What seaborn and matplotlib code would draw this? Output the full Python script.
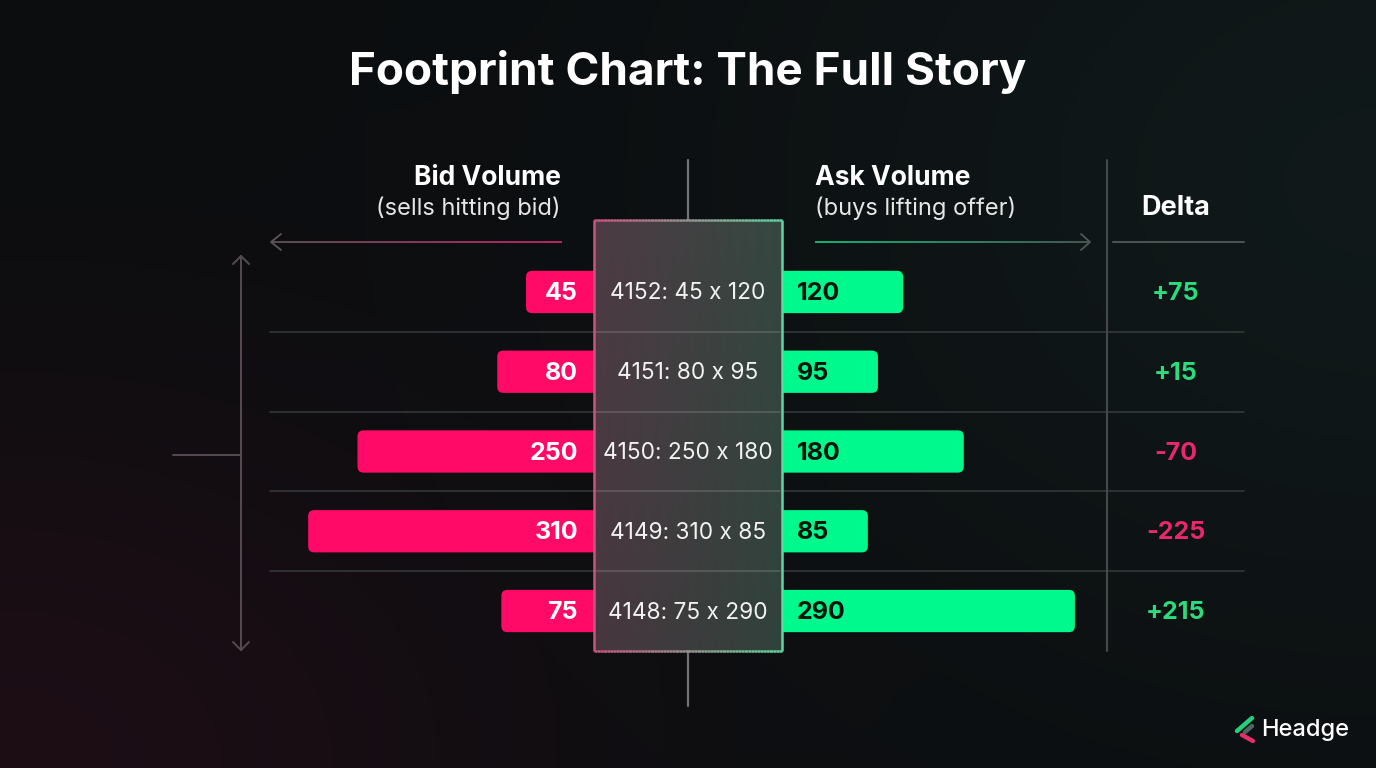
import numpy as np
import pandas as pd
import matplotlib
matplotlib.use("Agg")
import matplotlib.pyplot as plt
import seaborn as sns
from matplotlib.patches import FancyBboxPatch
from matplotlib.collections import LineCollection
from matplotlib.colors import to_rgb

# data
prices = [4152, 4151, 4150, 4149, 4148]
bid_vol = [45, 80, 250, 310, 75]
ask_vol = [120, 95, 180, 85, 290]

PINK = "#ff0a66"
GREEN = "#00f98c"
DPOS = "#2bdc7c"
DNEG = "#e8286a"
W, H = 1376, 768

sns.set_theme(style="dark")
plt.rcParams['font.family'] = ['Inter', 'DejaVu Sans']

df = pd.DataFrame({"price": [str(p) for p in prices], "bid": bid_vol, "ask": ask_vol})
df["delta"] = df["ask"] - df["bid"]

fig = plt.figure(figsize=(W / 100, H / 100), dpi=100)

# background axes in pixel coordinates
bg = fig.add_axes([0, 0, 1, 1])
bg.set_xlim(0, W)
bg.set_ylim(H, 0)
bg.axis("off")

# background gradient
yy, xx = np.mgrid[0:H:4, 0:W:4]
img = np.zeros(xx.shape + (3,))
img[:] = np.array(to_rgb("#0b0d0f"))
red_glow = np.exp(-(((xx - 0) / 520) ** 2 + ((yy - H) / 380) ** 2))
grn_glow = np.exp(-(((xx - W) / 650) ** 2 + ((yy - 180) / 520) ** 2))
img += red_glow[..., None] * np.array([0.07, 0.0, 0.025])
img += grn_glow[..., None] * np.array([0.02, 0.045, 0.04])
bg.imshow(np.clip(img, 0, 1), extent=[0, W, H, 0], aspect="auto", zorder=0, interpolation="bilinear")

# row geometry (pixels)
top_px, bot_px = 252.1, 650.9
row_h = (bot_px - top_px) / len(prices)
row_y = [top_px + (i + 0.5) * row_h for i in range(len(prices))]

def fig_rect(x0, x1, y0, y1):
    return [x0 / W, 1 - y1 / H, (x1 - x0) / W, (y1 - y0) / H]

# row separators
for i in range(1, len(prices)):
    y = top_px + i * row_h
    bg.plot([270, 1244], [y, y], color="#34383a", lw=1.2, zorder=1)

# bid axis: zero at px 563, 0.822 px per contract, pointing left
bid_origin, bid_scale = 563, 0.822
ax_bid = fig.add_axes(fig_rect(240, 640, top_px, bot_px))
ax_bid.patch.set_alpha(0)
sns.barplot(data=df, x="bid", y="price", orient="h", width=0.53, color=PINK, ax=ax_bid)
ax_bid.set_xlim((bid_origin - 240) / bid_scale, (bid_origin - 640) / bid_scale)
ax_bid.set_ylim(len(prices) - 0.5, -0.5)

# ask axis: zero at px 782, 1.01 px per contract
ask_origin, ask_scale = 782, 1.01
ax_ask = fig.add_axes(fig_rect(760, 1100, top_px, bot_px))
ax_ask.patch.set_alpha(0)
sns.barplot(data=df, x="ask", y="price", orient="h", width=0.53, color=GREEN, ax=ax_ask)
ax_ask.set_xlim((760 - ask_origin) / ask_scale, (1100 - ask_origin) / ask_scale)
ax_ask.set_ylim(len(prices) - 0.5, -0.5)


def round_bars(ax, start, px_per_x, color):
    # swap seaborn rectangles for rounded ones that start under the price box
    aspect = (1 / row_h) / (1 / px_per_x)
    for p in list(ax.patches):
        y, h, w = p.get_y(), p.get_height(), p.get_width()
        p.remove()
        fb = FancyBboxPatch((start, y), w - start, h,
                            boxstyle="round,pad=0,rounding_size=%f" % (6 / px_per_x),
                            mutation_aspect=aspect, fc=color, ec="none", zorder=2)
        ax.add_patch(fb)


round_bars(ax_bid, -60, bid_scale, PINK)
round_bars(ax_ask, -15, ask_scale, GREEN)

for ax in (ax_bid, ax_ask):
    ax.axis("off")

# value labels on bars
for i, (b, a) in enumerate(zip(bid_vol, ask_vol)):
    ax_bid.text((bid_origin - 578) / bid_scale, i + 0.02, str(b), ha="right", va="center",
                color="white", fontsize=18, fontweight="bold", zorder=3)
    ax_ask.text((797 - ask_origin) / ask_scale, i + 0.02, str(a), ha="left", va="center",
                color="#05140c", fontsize=18, fontweight="bold", zorder=3)

# price box overlay (drawn on a top axes)
top = fig.add_axes([0, 0, 1, 1])
top.set_xlim(0, W)
top.set_ylim(H, 0)
top.axis("off")
top.patch.set_alpha(0)

bx0, bx1, by0, by1 = 594, 782, 220, 651
gx = np.linspace(0, 1, 100)
gy = np.linspace(0, 1, 100)
GX, GY = np.meshgrid(gx, gy)
left_c = np.array(to_rgb("#4c3a43"))
right_c = np.array(to_rgb("#34463f"))
box_img = left_c * (1 - GX[..., None]) + right_c * GX[..., None]
box_img *= (1.02 - 0.08 * GY[..., None])
top.imshow(np.clip(box_img, 0, 1), extent=[bx0, bx1, by1, by0], aspect="auto",
           zorder=1, interpolation="bilinear")

# gradient border
pk = np.array(to_rgb("#c9557e"))
gr = np.array(to_rgb("#5fd6a0"))
n = 60
xs = np.linspace(bx0, bx1, n + 1)
segs, cols = [], []
for k in range(n):
    t = k / n
    c = pk * (1 - t) + gr * t
    segs += [[(xs[k], by0), (xs[k + 1], by0)], [(xs[k], by1), (xs[k + 1], by1)]]
    cols += [c, c]
segs += [[(bx0, by0), (bx0, by1)], [(bx1, by0), (bx1, by1)]]
cols += [pk, gr]
top.add_collection(LineCollection(segs, colors=cols, linewidths=1.8, zorder=3))

for i in range(1, len(prices)):
    y = top_px + i * row_h
    top.plot([bx0 + 2, bx1 - 2], [y, y], color="white", alpha=0.16, lw=1.2, zorder=2)

for i, (p, b, a) in enumerate(zip(prices, bid_vol, ask_vol)):
    top.text((bx0 + bx1) / 2, row_y[i] + 1.5, f"{p}: {b} x {a}", ha="center", va="center",
             color="#f2f2f2", fontsize=16.3, zorder=4)

# center line
top.plot([688, 688], [160, by0], color="#707273", lw=1.6, zorder=1)
top.plot([688, 688], [by1, 706], color="#707273", lw=1.6, zorder=1)

# delta column
top.plot([1107, 1107], [160, 651], color="#46494b", lw=1.5)
top.plot([1113, 1244], [242, 242], color="#4c5252", lw=1.5)
top.text(1176, 208, "Delta", ha="center", va="center", color="white",
         fontsize=19.5, fontweight="bold")
for i, d in enumerate(df["delta"]):
    top.text(1176, row_y[i] + 1.5, f"{d:+d}", ha="center", va="center",
             color=DPOS if d > 0 else DNEG, fontsize=18, fontweight="bold")

# headers
top.text(561, 178, "Bid Volume", ha="right", va="center", color="white",
         fontsize=19, fontweight="bold")
top.text(561, 208, "(sells hitting bid)", ha="right", va="center", color="#e6e6e6", fontsize=17)
top.text(815, 178, "Ask Volume", ha="left", va="center", color="white",
         fontsize=19, fontweight="bold")
top.text(815, 208, "(buys lifting offer)", ha="left", va="center", color="#e6e6e6", fontsize=17)


def grad_line(ax, x0, x1, y, c0, c1, n=60):
    xs = np.linspace(x0, x1, n + 1)
    c0, c1 = np.array(to_rgb(c0)), np.array(to_rgb(c1))
    segs = [[(xs[k], y), (xs[k + 1], y)] for k in range(n)]
    cols = [c0 * (1 - k / n) + c1 * (k / n) for k in range(n)]
    ax.add_collection(LineCollection(segs, colors=cols, linewidths=1.3))


grad_line(top, 271, 562, 242, "#5c5458", "#c8266a")
top.plot([281, 271, 281], [234, 242, 250], color="#5c5458", lw=1.3)
grad_line(top, 815, 1090, 242, "#13c07a", "#4c5a56")
top.plot([1081, 1090, 1081], [234, 242, 250], color="#4c5a56", lw=1.3)

# vertical price arrow on the left
arrow_c = "#574a52"
top.plot([241, 241], [256, 650], color=arrow_c, lw=1.4)
top.plot([233, 241, 249], [264, 256, 264], color=arrow_c, lw=1.4)
top.plot([233, 241, 249], [642, 650, 642], color=arrow_c, lw=1.4)
top.plot([173, 241], [455, 455], color=arrow_c, lw=1.4)

# title
top.text(688, 72, "Footprint Chart: The Full Story", ha="center", va="center",
         color="white", fontsize=33, fontweight="bold")

# logo
top.plot([1237, 1252], [731, 718], color="#22d07c", lw=3.2, solid_capstyle="round")
top.plot([1245, 1252], [732, 726], color="#4f6660", lw=3.2, solid_capstyle="round")
top.plot([1242, 1253], [735, 741], color="#e0306a", lw=3.2, solid_capstyle="round")
top.text(1261, 730, "Headge", ha="left", va="center", color="white",
         fontsize=17, fontweight="medium")

fig.savefig("out.png", dpi=100, facecolor="#0b0d0f")
